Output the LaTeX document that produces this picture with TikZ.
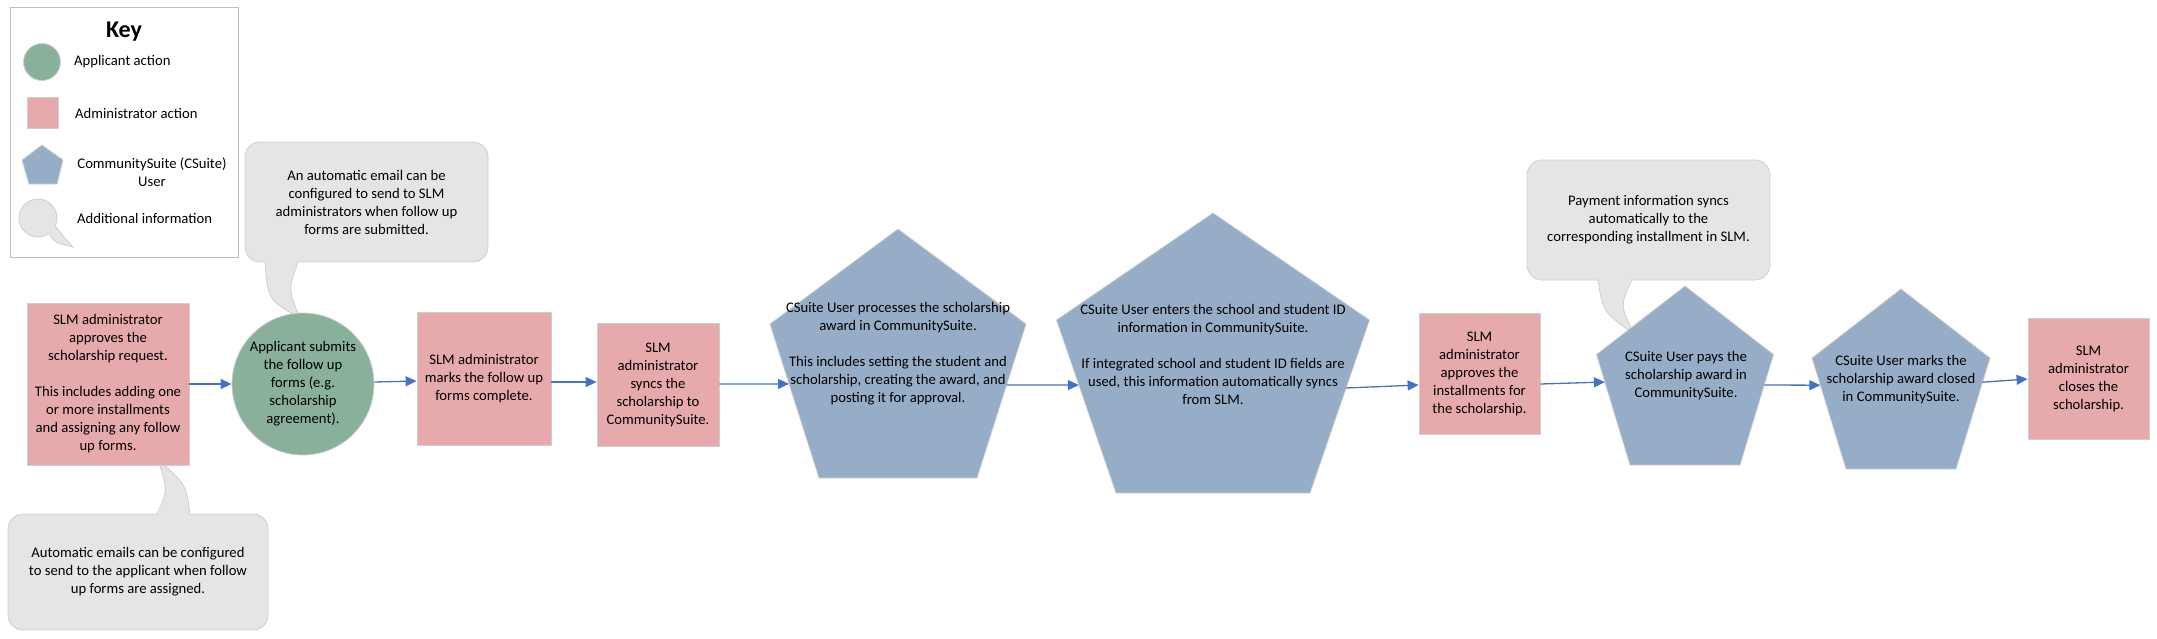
\documentclass[tikz,border=0pt]{standalone}
\usepackage{fontspec}
\setmainfont{Carlito}
\usetikzlibrary{arrows.meta,calc,shapes.geometric}
\definecolor{pinkc}{HTML}{E6A9AC}
\definecolor{greenc}{HTML}{88B09B}
\definecolor{bluec}{HTML}{96ADC7}
\definecolor{grayc}{HTML}{E7E4E4}
\definecolor{edgec}{HTML}{D0CECE}
\definecolor{arrc}{HTML}{4472C4}
\definecolor{keyedge}{HTML}{BFBFBF}
\begin{document}
\begin{tikzpicture}[x=1pt,y=-1pt,
  every node/.style={font=\fontsize{14.67}{18}\selectfont, inner sep=0pt, align=center},
  admin/.style={fill=pinkc, draw=edgec, line width=0.8pt},
  applicant/.style={circle, fill=greenc, draw=edgec, line width=0.8pt},
  pentfill/.style={fill=bluec, draw=edgec, line width=0.8pt},
  info/.style={fill=grayc, draw=edgec, line width=0.8pt, rounded corners=15pt},
  tailfill/.style={fill=grayc},
  tailedge/.style={draw=edgec, line width=0.8pt},
  arr/.style={draw=arrc, line width=1.3pt, -{Triangle[length=11pt,width=10pt]}}
]
\useasboundingbox (0,0) rectangle (2157,638);

% ---------- Key ----------
\node[draw=keyedge, line width=0.8pt, minimum width=228pt, minimum height=250pt] (key) at (124,132) {};
\node[font=\fontsize{24}{28}\selectfont\bfseries] (keytitle) at (124,32) {Key};
\node[applicant, minimum size=37pt] (kc) at (42,62) {};
\node[anchor=west] (kct) at (74,62) {Applicant action};
\node[admin, minimum size=31pt] (ks) at (42.5,112.5) {};
\node[anchor=west] (kst) at (75,113) {Administrator action};
\coordinate (kpt) at (42,145); \coordinate (kpr) at (63,160); \coordinate (kpbr) at (57,184);
\coordinate (kpbl) at (29,184); \coordinate (kpl) at (22,160);
\path[pentfill] (kpt) -- (kpr) -- (kpbr) -- (kpbl) -- (kpl) -- cycle;
\node (kptext) at (152,172) {CommunitySuite (CSuite)\\User};
\node[circle, fill=grayc, draw=edgec, line width=0.8pt, minimum size=38pt] (kb) at (38,218) {};
\path[tailfill] (48.9,233.6) .. controls (55,243) .. (73,247) .. controls (63,236) .. (55.2,226) -- (38,218) -- cycle;
\path[tailedge] (48.9,233.6) .. controls (55,243) .. (73,247) .. controls (63,236) .. (55.2,226);
\node[anchor=west] (kbt) at (77,218) {Additional information};

% ---------- Callouts ----------
\node[info, minimum width=260pt, minimum height=116pt] (i1) at (138,572) {Automatic emails can be configured\\to send to the applicant when follow\\up forms are assigned.};
\path[tailfill] (158,460) .. controls (168,490) .. (157,516) -- (190,516) .. controls (186,484) .. (158,460) -- cycle;
\path[tailedge] (157,514) .. controls (168,490) .. (158,460) .. controls (186,484) .. (190,514);

\node[info, minimum width=243pt, minimum height=120pt] (i2) at (366.5,202) {An automatic email can be\\configured to send to SLM\\administrators when follow up\\forms are submitted.};
\path[tailfill] (265,260) .. controls (268,300) .. (300,318) .. controls (288,290) .. (298,260) -- cycle;
\path[tailedge] (265,262) .. controls (268,300) .. (300,318) .. controls (288,290) .. (298,262);

\node[info, minimum width=243pt, minimum height=120pt] (i3) at (1648.5,220) {Payment information syncs\\automatically to the\\corresponding installment in SLM.};
\path[tailfill] (1598,278) .. controls (1603,312) .. (1634,334) .. controls (1620,305) .. (1632,278) -- cycle;
\path[tailedge] (1598,280) .. controls (1603,312) .. (1634,334) .. controls (1620,305) .. (1632,280);

% ---------- Process ----------
\node[admin, minimum size=162pt] (b1) at (108,384) {SLM administrator\\approves the\\scholarship request.\\[18pt]This includes adding one\\or more installments\\and assigning any follow\\up forms.};
\node[applicant, minimum size=142pt] (c1) at (303,384) {Applicant submits\\the follow up\\forms (e.g.\\scholarship\\agreement).};
\node[admin, minimum width=134pt, minimum height=133pt] (b2) at (484,378.5) {SLM administrator\\marks the follow up\\forms complete.};
\node[admin, minimum width=122pt, minimum height=123pt] (b3) at (658,384.5) {SLM\\administrator\\syncs the\\scholarship to\\CommunitySuite.};

\coordinate (p1t) at (898,229); \coordinate (p1r) at (1026,324); \coordinate (p1br) at (977,478);
\coordinate (p1bl) at (819,478); \coordinate (p1l) at (770,324);
\path[pentfill] (p1t) -- (p1r) -- (p1br) -- (p1bl) -- (p1l) -- cycle;
\node (p1) at (898,354) {CSuite User processes the scholarship\\award in CommunitySuite.\\[18pt]This includes setting the student and\\scholarship, creating the award, and\\posting it for approval.};
\coordinate (p1in) at ($(p1l)!0.389!(p1bl)$);
\coordinate (p1out) at ($(p1r)!0.396!(p1br)$);

\coordinate (p2t) at (1213,213); \coordinate (p2r) at (1369.5,320); \coordinate (p2br) at (1310,493);
\coordinate (p2bl) at (1116,493); \coordinate (p2l) at (1056.5,320);
\path[pentfill] (p2t) -- (p2r) -- (p2br) -- (p2bl) -- (p2l) -- cycle;
\node (p2) at (1213,354) {CSuite User enters the school and student ID\\information in CommunitySuite.\\[18pt]If integrated school and student ID fields are\\used, this information automatically syncs\\from SLM.};
\coordinate (p2in) at ($(p2l)!0.376!(p2bl)$);
\coordinate (p2out) at ($(p2r)!0.393!(p2br)$);

\node[admin, minimum size=121pt] (b4) at (1479.5,373.5) {SLM\\administrator\\approves the\\installments for\\the scholarship.};

\coordinate (p3t) at (1685,286); \coordinate (p3r) at (1773.5,354.5); \coordinate (p3br) at (1740,465);
\coordinate (p3bl) at (1630,465); \coordinate (p3l) at (1596.5,354.5);
\path[pentfill] (p3t) -- (p3r) -- (p3br) -- (p3bl) -- (p3l) -- cycle;
\node (p3) at (1686,376) {CSuite User pays the\\scholarship award in\\CommunitySuite.};
\coordinate (p3in) at ($(p3l)!0.249!(p3bl)$);
\coordinate (p3out) at ($(p3r)!0.276!(p3br)$);

\coordinate (p4t) at (1901,289); \coordinate (p4r) at (1990,358); \coordinate (p4br) at (1956,469);
\coordinate (p4bl) at (1846,469); \coordinate (p4l) at (1812,358);
\path[pentfill] (p4t) -- (p4r) -- (p4br) -- (p4bl) -- (p4l) -- cycle;
\node (p4) at (1901,380) {CSuite User marks the\\scholarship award closed\\in CommunitySuite.};
\coordinate (p4in) at ($(p4l)!0.245!(p4bl)$);
\coordinate (p4out) at ($(p4r)!0.218!(p4br)$);

\node[admin, minimum size=121pt] (b5) at (2088.5,378.5) {SLM\\administrator\\closes the\\scholarship.};

% ---------- Connectors ----------
\draw[arr] (b1.east) -- (c1.west);
\draw[arr] (c1.east |- 0,382) -- (b2.west |- 0,381);
\draw[arr] (b2.east |- 0,382) -- (b3.west |- 0,382);
\draw[arr] (b3.east |- 0,384) -- (p1in);
\draw[arr] (p1out) -- (p2in);
\draw[arr] (p2out) -- (b4.west |- 0,385);
\draw[arr] (b4.east |- 0,384) -- (p3in);
\draw[arr] (p3out) -- (p4in);
\draw[arr] (p4out) -- (b5.west |- 0,379);
\end{tikzpicture}
\end{document}
